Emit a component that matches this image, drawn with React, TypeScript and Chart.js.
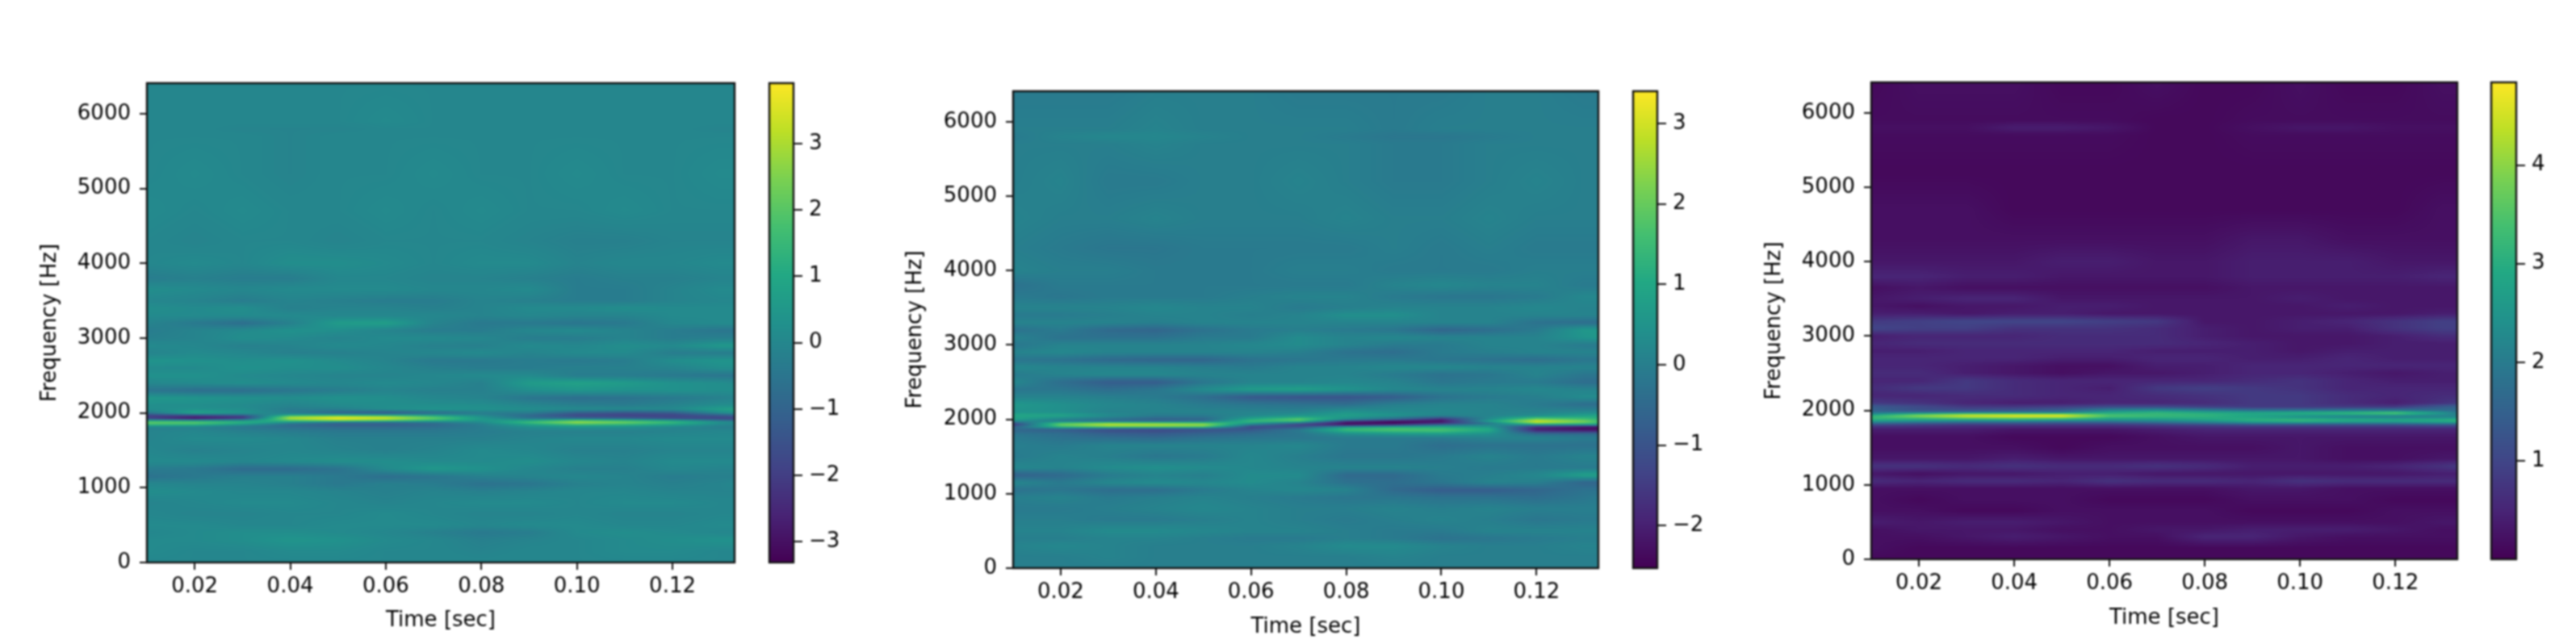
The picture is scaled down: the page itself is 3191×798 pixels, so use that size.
import React, { useEffect, useRef } from "react";
import { Chart, registerables } from "chart.js";

Chart.register(...registerables);

const timeSamples = [0.01, 0.02, 0.03, 0.04, 0.05, 0.06, 0.07, 0.08, 0.09, 0.1, 0.11, 0.12, 0.13, 0.133];
const freqRows = [0, 150, 300, 400, 500, 650, 800, 950, 1050, 1150, 1250, 1350, 1500, 1650, 1750, 1800, 1825, 1850, 1875, 1900, 1925, 1950, 1975, 2000, 2050, 2100, 2200, 2300, 2400, 2500, 2600, 2700, 2800, 2900, 3000, 3100, 3200, 3300, 3400, 3500, 3650, 3800, 4000, 4300, 4700, 5200, 5700, 5800, 5900, 6410];

const timeTicks = [0.02, 0.04, 0.06, 0.08, 0.1, 0.12];
const freqTicks = [0, 1000, 2000, 3000, 4000, 5000, 6000];
const colorTicks1 = [-3, -2, -1, 0, 1, 2, 3];
const colorTicks2 = [-2, -1, 0, 1, 2, 3];
const colorTicks3 = [1, 2, 3, 4];
const colorRange1 = [-3.31, 3.91];
const colorRange2 = [-2.53, 3.4];
const colorRange3 = [0.0, 4.84];
const timeLabel = "Time [sec]";
const freqLabel = "Frequency [Hz]";

const viridisStops = ["#440154", "#482475", "#414487", "#355f8d", "#2a788e", "#21918c", "#22a884", "#44bf70", "#7ad151", "#bddf26", "#fde725"];

const spectrogram1 = [
  [0,0,0,0,0,0,0,0,0,0,0,0,0,0],
  [.1,0,0,.1,.1,0,0,-.1,0,0,.1,.1,0,0],
  [.1,.1,.2,.4,.3,.1,0,-.2,-.1,0,.1,.2,.3,.3],
  [0,.1,.2,.2,.1,0,-.2,-.4,-.3,.1,.2,.1,0,0],
  [.1,.1,0,0,.1,.1,.1,0,.1,.1,0,0,.1,.1],
  [0,-.1,-.1,0,0,.1,0,-.1,-.1,0,-.1,-.1,0,0],
  [-.1,0,.1,.1,0,-.1,0,.1,.1,0,.1,.1,0,0],
  [.2,.1,0,0,-.1,-.2,-.1,-.2,-.1,0,0,-.1,-.1,-.1],
  [0,-.1,-.1,-.2,-.4,-.2,-.3,-.6,-.5,-.2,-.1,-.2,-.1,0],
  [-.6,-.4,-.2,-.2,-.4,-.7,-.5,-.2,-.1,0,-.1,-.3,-.2,-.2],
  [-.3,-.4,-.8,-.8,-.6,.1,.5,.3,0,-.2,-.2,0,-.1,-.1],
  [.1,.1,0,.1,.2,.2,.1,.1,.2,0,-.1,.1,.1,.1],
  [0,-.2,-.1,0,-.1,-.2,-.1,.1,0,-.2,-.2,-.1,-.1,-.1],
  [-.1,.1,.1,0,-.2,-.2,-.2,-.2,-.1,0,0,.1,.1,.1],
  [-.1,0,-.2,-.3,-.4,-.4,-.4,-.3,-.2,-.2,-.2,-.1,0,0],
  [-.2,-.2,-.4,-.6,-.7,-.7,-.6,-.3,.1,.2,.1,-.1,-.2,-.2],
  [.5,.4,-.3,-.8,-1,-1,-.8,-.3,.4,.7,.6,.3,-.2,-.2],
  [1.7,1.6,.7,-.7,-1.2,-1.2,-.9,-.2,1,1.9,1.6,1,.1,0],
  [2.1,2,1.3,.4,-.3,-.5,-.3,.1,1.6,2.8,2.3,1.5,.3,.1],
  [.6,.2,.3,2,2.7,2.2,1.3,.5,.8,1.8,1.3,.6,-.6,-.8],
  [-1.7,-2.7,-1.8,3,3.7,3.3,2.1,.5,-.4,-.6,-.9,-1.5,-1.8,-1.8],
  [-2,-2.6,-2.2,2.6,3.2,2.9,1.7,.3,-.8,-1.5,-1.7,-1.8,-1.6,-1.5],
  [-1.6,-1,-.7,.6,.6,.3,.2,-.1,-.8,-1.7,-1.9,-1.8,-1,-.7],
  [-.5,.9,.4,-.3,-1,-1.3,-.8,-.3,-.3,-1.1,-1.4,-1.2,.1,.3],
  [.2,.3,.2,-.3,-.2,.2,.4,.3,.2,.1,.1,.1,.7,.8],
  [.2,.2,.1,-.1,.1,.2,.2,.2,0,-.2,-.3,-.1,.2,.2],
  [.5,.4,.3,.2,.3,.2,0,-.1,-.5,-.7,-.6,-.4,-.2,-.1],
  [-.5,-.7,-.7,-.5,-.3,-.1,-.2,-.2,.2,.4,.3,.3,.2,.2],
  [0,.1,.2,.1,0,.1,0,-.2,.6,.8,.6,.3,.2,.1],
  [.3,.3,.1,0,-.1,-.1,0,.1,.1,-.3,-.3,-.4,-.5,-.5],
  [.1,.1,.3,.2,.2,0,-.2,-.3,-.3,-.2,-.2,-.1,.2,.2],
  [.4,.3,.2,.3,.1,-.1,-.4,-.4,-.3,-.4,-.3,.2,.4,.4],
  [-.1,.1,0,-.2,-.2,-.1,0,.1,-.1,.1,.1,-.3,-.3,-.3],
  [.1,0,-.2,-.1,.1,0,-.2,-.2,.1,0,.2,.1,.5,.5],
  [-.2,-.1,.2,.1,-.1,.1,.1,0,-.3,-.3,-.1,-.3,-.2,-.2],
  [-.3,-.1,.1,.3,.2,-.1,-.3,-.3,0,.1,-.1,-.3,-.5,-.5],
  [-.1,-.4,-.7,-.2,.6,.7,-.1,-.4,-.4,-.5,-.4,0,.1,.1],
  [.1,.1,.1,.1,0,0,0,-.1,0,-.1,-.1,.1,.1,.1],
  [.2,.1,.2,-.2,-.1,-.1,-.2,-.1,.1,.1,.2,.1,.1,.1],
  [0,-.1,-.3,-.1,-.2,-.3,-.3,-.1,-.2,-.3,-.3,-.1,0,0],
  [.2,.1,0,.1,.1,.1,0,0,.1,-.3,-.3,-.1,.1,.1],
  [-.3,-.2,-.3,-.3,0,0,-.1,-.1,-.2,-.3,-.2,-.2,-.1,-.1],
  [0,.1,0,.2,.2,.1,0,.1,.1,-.1,0,0,.1,.1],
  [0,-.1,0,0,-.1,0,0,0,-.1,-.2,-.2,-.1,-.1,-.1],
  [.1,0,.1,0,0,.1,0,.1,0,0,.1,0,0,0],
  [0,.1,0,-.1,0,0,.1,0,0,.1,0,0,.1,.1],
  [0,0,0,-.1,0,0,0,0,0,0,0,0,0,0],
  [0,0,-.1,-.1,-.1,0,0,0,0,0,0,0,-.1,-.1],
  [0,0,0,0,0,.1,0,0,0,0,0,0,0,0],
  [0,0,0,0,0,0,0,0,0,0,0,0,0,0],
];

const spectrogram2 = [
  [0,0,0,0,0,0,0,0,0,0,0,0,0,0],
  [0,0,.1,0,0,0,0,0,.1,0,0,0,0,0],
  [.1,.2,.1,0,0,0,.1,.3,.3,.1,0,0,.1,.1],
  [0,0,.1,.1,0,-.1,-.1,0,-.1,-.3,-.2,-.1,0,0],
  [.1,.1,.3,.3,.2,.1,.1,0,-.1,-.1,.1,.1,.1,.1],
  [0,0,-.1,-.1,0,.1,0,-.1,0,.1,0,-.2,-.1,-.1],
  [-.1,-.1,0,.1,.2,.1,0,0,.1,0,.1,0,0,0],
  [0,.1,-.1,0,.1,0,-.1,-.2,-.2,-.3,-.3,-.4,-.2,-.1],
  [-.3,-.2,-.4,-.4,-.1,.1,.2,.1,-.5,-.8,-.8,-.6,-.3,-.3],
  [.2,-.1,.2,.3,.2,.3,.1,-.3,-.4,-.2,.1,0,-.6,-.6],
  [-.7,-.5,-.1,.1,0,.3,.3,-.5,-.5,-.1,0,.2,.8,.8],
  [.2,.1,.3,.4,.3,.2,.1,.1,.1,0,-.1,-.1,-.1,-.1],
  [-.1,.1,0,-.2,-.1,.2,0,-.2,-.2,-.1,.1,-.1,.1,.1],
  [0,-.1,.1,.1,.1,.1,.2,-.1,-.1,-.4,-.3,-.3,-.3,-.3],
  [-.1,-.3,-.4,-.5,-.3,-.2,-.2,-.1,-.1,-.1,.1,.1,-.1,-.1],
  [-.2,-.4,-.7,-.8,-.6,-.4,-.2,.3,.5,.6,.4,-.4,-.4,-.4],
  [-.4,-.5,-.9,-1,-.8,-.6,-.2,.8,1.1,1.2,.7,-1.1,-1.2,-1.2],
  [-.5,-.8,-1.1,-1.2,-1,-.8,-.1,1.3,1.6,1.6,1,-1.8,-2,-2],
  [-.5,-.3,-.6,-.8,-.7,-1.1,-.5,1.4,1.7,1.5,1,-2.1,-2.4,-2.4],
  [-.6,1.4,2,2,1.8,-1.2,-1,.3,.8,.9,.5,-1.5,-2,-2.1],
  [-1.5,2,2.8,2.7,2.5,-.2,-1.4,-2,-1.4,-.4,.2,.3,.3,.4],
  [-1,1.6,2.2,2,1.8,.8,-.4,-2.4,-2.5,-1.8,-.2,2.4,1.8,1.4],
  [.3,-.1,-.4,-.5,-.3,1.5,1.6,-1.4,-2.2,-2.3,.8,3,2.2,1.6],
  [.8,.1,-.3,-.7,-.6,1,1.9,.3,-.6,-1.8,.3,2.2,1.6,1.3],
  [1,.9,.3,-.1,-.1,.2,.5,.8,.5,.1,.1,.3,.8,.9],
  [.5,.4,.1,.1,.1,.1,.1,.5,.3,.2,.1,.1,.2,.2],
  [.6,.4,.2,.1,-.1,-.2,-.3,-.4,0,.1,.1,-.1,-.4,-.4],
  [.1,.1,0,-.1,-.4,-.9,-1,-1,-.8,-.3,-.1,0,.3,.3],
  [-.2,-.2,-.4,-.2,.3,.7,.8,.5,.2,.1,.1,.2,.1,.1],
  [.2,-.4,-.8,-.8,-.2,.1,.1,.2,.1,-.2,-.1,-.1,-.4,-.4],
  [-.1,.1,.2,.2,.1,.1,.1,.1,-.1,-.3,-.2,.1,-.2,-.2],
  [.2,.1,.1,.1,0,-.1,.1,.1,.2,.2,.1,.1,.1,.1],
  [-.2,-.3,-.5,-.6,-.6,-.3,-.2,-.1,-.1,-.2,-.3,-.4,-.2,-.2],
  [.1,.2,.1,.1,.1,.1,0,-.3,-.4,-.1,0,.1,.1,.1],
  [-.2,.1,.1,.1,.1,.2,.3,.1,-.1,-.1,.1,.1,-.1,-.1],
  [.1,-.3,-.3,-.3,-.1,-.1,.3,.1,.2,.1,.1,.1,.5,.6],
  [-.3,-.1,-.5,-.6,-.3,-.1,0,-.1,-.2,-.6,-.4,-.1,.6,.6],
  [.1,.1,.1,0,.1,.1,.1,.1,.1,.1,.1,-.3,-.4,-.4],
  [-.1,-.1,0,.1,.1,0,.1,.4,.4,.1,.1,.1,.1,.1],
  [.1,.1,.1,.2,.1,.1,-.1,0,.1,.1,.1,.2,.1,.1],
  [-.1,-.2,-.1,-.1,-.1,0,.1,.1,-.1,-.2,-.2,-.1,.2,.2],
  [-.3,-.1,-.1,-.1,-.1,-.1,-.1,-.1,.1,.2,.1,.1,-.1,-.1],
  [.1,0,0,-.1,-.1,-.1,0,0,-.1,-.1,-.1,0,0,0],
  [0,-.1,-.2,-.2,-.1,-.1,-.1,-.1,0,-.1,0,-.1,-.1,-.1],
  [.1,0,0,.1,0,0,0,.1,0,0,.1,0,0,0],
  [0,.1,-.1,-.1,0,0,.1,0,-.1,-.1,0,.1,0,0],
  [0,0,0,.1,0,0,0,0,-.1,-.1,0,0,0,0],
  [-.1,.1,.2,.2,.1,0,0,-.1,-.2,-.2,-.1,0,0,0],
  [0,0,0,.1,0,0,0,0,-.1,0,0,0,0,0],
  [-.1,-.1,-.1,0,0,0,-.1,-.1,-.1,-.1,0,0,-.1,-.1],
];

const spectrogram3 = [
  [.1,.1,.1,.1,.1,.1,.1,.1,.1,.1,.1,.1,.1,.1],
  [.2,.1,.1,.1,.1,.1,.1,.1,.1,.1,.1,.1,.1,.1],
  [.2,.2,.3,.4,.3,.2,.2,.5,.5,.3,.2,.2,.2,.2],
  [.2,.3,.3,.3,.2,.2,.3,.3,.4,.4,.4,.3,.2,.2],
  [.4,.3,.4,.4,.3,.2,.2,.2,.2,.2,.2,.2,.3,.3],
  [.2,.2,.1,.1,.2,.2,.2,.2,.1,.1,.1,.2,.2,.2],
  [.2,.1,.2,.2,.2,.1,.1,.1,.2,.2,.2,.1,.1,.1],
  [.2,.2,.2,.2,.2,.2,.2,.2,.3,.3,.2,.2,.2,.2],
  [.6,.5,.6,.6,.5,.7,.6,.6,.5,.7,.6,.6,.6,.6],
  [.3,.2,.3,.3,.4,.4,.3,.3,.3,.3,.3,.3,.4,.4],
  [.7,.7,.6,.7,.6,.6,.7,.6,.4,.4,.4,.5,.7,.8],
  [.3,.3,.3,.4,.3,.3,.3,.3,.3,.3,.2,.2,.3,.3],
  [.2,.2,.2,.2,.1,.2,.2,.2,.2,.3,.2,.2,.2,.2],
  [.2,.2,.2,.1,.1,.1,.2,.3,.3,.3,.3,.3,.3,.3],
  [.4,.4,.4,.3,.3,.3,.4,.5,.5,.5,.5,.5,.5,.5],
  [.9,.8,.7,.7,.7,.7,.8,.9,1,1,1,1,1.1,1.1],
  [1.6,1.3,1.2,1.2,1.1,1.1,1.3,1.6,1.9,1.9,1.8,1.8,2,2],
  [2.4,2.2,2,2,1.8,1.8,2,2.3,2.8,3,2.8,2.7,2.9,3],
  [3,2.8,2.8,2.9,2.8,2.5,2.5,2.8,3.1,3.2,3,2.9,3,3.1],
  [3.2,3.4,3.8,3.9,3.8,3,3,3,2.9,2.6,2.4,2.3,2.4,2.5],
  [3.1,4,4.5,4.7,4.7,3.5,3.2,3.1,2.8,2.5,2.2,2.1,2.1,2.1],
  [2.4,3.3,3.9,4,4,3.2,3.2,3.1,2.9,2.9,3,3.2,2.4,2.1],
  [1.8,1.8,1.9,1.9,1.9,2.8,3.1,2.8,2.7,2.9,3.1,3.4,2.4,1.9],
  [1.5,1.2,1.2,1.3,1.5,2.2,2.4,2.1,1.8,1.8,1.9,1.9,1.7,1.7],
  [1.4,1.1,.8,.8,.9,1.1,1.1,.9,.8,.8,.8,.8,1.4,1.5],
  [.8,.7,.5,.4,.4,.5,.5,.6,.8,.8,.6,.4,.7,.8],
  [.5,.5,.6,.6,.5,.5,.6,.7,.8,.8,.6,.5,.6,.6],
  [.6,.8,.8,.6,.5,.4,.8,.9,.8,.7,.5,.5,.5,.5],
  [.5,.5,.8,.6,.5,.5,.5,.5,.6,.7,.5,.4,.4,.4],
  [.6,.6,.4,.3,.2,.3,.3,.4,.5,.5,.4,.3,.4,.4],
  [.5,.5,.4,.3,.2,.2,.4,.4,.5,.5,.5,.5,.5,.5],
  [.5,.5,.5,.5,.4,.4,.5,.5,.4,.4,.5,.4,.4,.4],
  [.4,.4,.5,.5,.5,.5,.4,.4,.4,.3,.4,.4,.4,.4],
  [.5,.6,.6,.6,.6,.6,.6,.5,.4,.3,.3,.4,.4,.4],
  [.4,.5,.5,.5,.6,.6,.6,.4,.3,.3,.3,.4,.6,.6],
  [1,.9,.9,.7,.7,.7,.6,.4,.3,.4,.4,.7,.9,.9],
  [.8,.9,1,1,1,.9,.8,.3,.3,.4,.5,.7,.9,.9],
  [.4,.4,.3,.4,.4,.3,.3,.3,.3,.3,.3,.3,.4,.4],
  [.3,.2,.3,.3,.4,.4,.3,.3,.3,.3,.4,.3,.3,.3],
  [.3,.4,.5,.5,.3,.3,.3,.3,.3,.4,.3,.3,.3,.3],
  [.2,.3,.2,.2,.2,.2,.2,.2,.3,.3,.3,.3,.3,.3],
  [.5,.5,.4,.4,.3,.3,.3,.3,.4,.4,.4,.4,.5,.5],
  [.3,.3,.3,.3,.4,.4,.3,.3,.4,.4,.4,.3,.3,.3],
  [.2,.2,.2,.2,.2,.2,.2,.2,.3,.3,.2,.2,.2,.2],
  [.2,.2,.2,.1,.1,.1,.1,.1,.1,.1,.1,.1,.2,.2],
  [.1,.1,.1,.1,.1,.1,.1,.1,.1,.1,.1,.1,.1,.1],
  [.15,.15,.15,.15,.15,.15,.1,.1,.15,.15,.15,.15,.15,.15],
  [.2,.2,.2,.4,.4,.3,.1,.1,.2,.3,.3,.2,.2,.2],
  [.15,.15,.15,.15,.15,.15,.1,.1,.15,.15,.15,.15,.15,.15],
  [.1,.2,.2,.2,.1,.1,.2,.1,.1,.2,.1,.1,.2,.2],
];

const FONT = "'DejaVu Sans'";
const FONT_SIZE = 26;
const TEXT = "#000";

function hexRgb(h: string) {
  return [parseInt(h.slice(1, 3), 16), parseInt(h.slice(3, 5), 16), parseInt(h.slice(5, 7), 16)];
}
function colormapAt(t: number) {
  const p = Math.min(Math.max(t, 0), 1) * (viridisStops.length - 1);
  const i = Math.min(Math.floor(p), viridisStops.length - 2);
  const a = hexRgb(viridisStops[i]);
  const b = hexRgb(viridisStops[i + 1]);
  const f = p - i;
  return [a[0] + (b[0] - a[0]) * f, a[1] + (b[1] - a[1]) * f, a[2] + (b[2] - a[2]) * f];
}

function segments(positions: number[], from: number, to: number) {
  const out: [number, number][] = [];
  const asc = positions[positions.length - 1] > positions[0];
  for (let p = from; p < to; p++) {
    const c = p + 0.5;
    let i = 0;
    while (
      i < positions.length - 2 &&
      (asc ? positions[i + 1] < c : positions[i + 1] > c)
    ) i++;
    const f = (c - positions[i]) / (positions[i + 1] - positions[i]);
    out.push([i, Math.min(Math.max(f, 0), 1)]);
  }
  return out;
}

const heatmapPlugin = {
  id: "heatmap",
  beforeDatasetsDraw(chart: any) {
    const opts = chart.options.plugins.heatmap;
    if (!opts || !opts.matrix) return;
    const meta = chart.getDatasetMeta(0);
    const nc = timeSamples.length;
    const nr = freqRows.length;
    const xs: number[] = [];
    const ys: number[] = [];
    for (let c = 0; c < nc; c++) xs.push(meta.data[c].x);
    for (let r = 0; r < nr; r++) ys.push(meta.data[r * nc].y);
    const area = chart.chartArea;
    const L = Math.round(area.left), R = Math.round(area.right), T = Math.round(area.top), B = Math.round(area.bottom);
    const w = R - L, h = B - T;
    const off = document.createElement("canvas");
    off.width = w;
    off.height = h;
    const octx = off.getContext("2d")!;
    const img = octx.createImageData(w, h);
    const sx = segments(xs, L, R);
    const sy = segments(ys, T, B);
    const [vmin, vmax] = opts.range;
    const lut: number[][] = [];
    for (let i = 0; i < 512; i++) lut.push(colormapAt(i / 511));
    const m = opts.matrix as number[][];
    let k = 0;
    for (let y = 0; y < h; y++) {
      const [ri, rf] = sy[y];
      const r0 = m[ri], r1 = m[ri + 1];
      for (let x = 0; x < w; x++) {
        const [ci, cf] = sx[x];
        const top = r0[ci] + (r0[ci + 1] - r0[ci]) * cf;
        const bot = r1[ci] + (r1[ci + 1] - r1[ci]) * cf;
        const v = top + (bot - top) * rf;
        const col = lut[Math.round(Math.min(Math.max((v - vmin) / (vmax - vmin), 0), 1) * 511)];
        img.data[k++] = col[0];
        img.data[k++] = col[1];
        img.data[k++] = col[2];
        img.data[k++] = 255;
      }
    }
    octx.putImageData(img, 0, 0);
    chart.ctx.drawImage(off, L, T);
  },
};

const framePlugin = {
  id: "frame",
  afterDatasetsDraw(chart: any) {
    const a = chart.chartArea;
    const c = chart.ctx;
    c.save();
    c.strokeStyle = "#111";
    c.lineWidth = 2.4;
    c.strokeRect(a.left, a.top, a.right - a.left, a.bottom - a.top);
    c.restore();
  },
};

type Layout = {
  left: number; right: number; top: number; bottom: number;
  cbLeft: number; cbRight: number; yTitleX: number; xTitleY: number;
};

const panels: { matrix: number[][]; range: number[]; cticks: number[]; layout: Layout }[] = [
  { matrix: spectrogram1, range: colorRange1, cticks: colorTicks1,
    layout: { left: 182, right: 910, top: 103, bottom: 697, cbLeft: 953, cbRight: 983, yTitleX: 63, xTitleY: 769 } },
  { matrix: spectrogram2, range: colorRange2, cticks: colorTicks2,
    layout: { left: 1255, right: 1980, top: 113, bottom: 704, cbLeft: 2023, cbRight: 2053, yTitleX: 1135, xTitleY: 777 } },
  { matrix: spectrogram3, range: colorRange3, cticks: colorTicks3,
    layout: { left: 2318, right: 3044, top: 102, bottom: 693, cbLeft: 3086, cbRight: 3117, yTitleX: 2199, xTitleY: 766 } },
];

const PAD = 3;
const LINE_H = FONT_SIZE * 1.2;

function fixedAxis(size: number, horizontal: boolean) {
  return (s: any) => {
    if (horizontal) s.height = size;
    else s.width = size;
    s.paddingTop = 0;
    s.paddingBottom = 0;
    s.paddingLeft = 0;
    s.paddingRight = 0;
  };
}

function HeatPanel({ p }: { p: (typeof panels)[number] }) {
  const heatRef = useRef<HTMLCanvasElement>(null);
  const barRef = useRef<HTMLCanvasElement>(null);
  const l = p.layout;
  const yW = Math.round(l.left - (l.yTitleX - LINE_H / 2));
  const xH = Math.round(l.xTitleY + LINE_H / 2 - l.bottom);
  const heatLeft = l.left - yW;
  const heatW = l.right - heatLeft + PAD;
  const heatTop = l.top - PAD;
  const heatH = l.bottom + xH - heatTop;
  const barW = 72 + (l.cbRight - l.cbLeft);
  const barLeft = l.cbLeft - PAD;
  const barH = l.bottom - l.top + 2 * PAD;

  useEffect(() => {
    const cells: { x: number; y: number }[] = [];
    freqRows.forEach((f) => timeSamples.forEach((t) => cells.push({ x: t, y: f })));
    const tickFont = { family: FONT, size: FONT_SIZE };
    const heat = new Chart(heatRef.current!, {
      type: "scatter",
      data: { datasets: [{ data: cells, pointRadius: 0, pointHoverRadius: 0, showLine: false }] },
      options: {
        animation: false, responsive: false, devicePixelRatio: 1,
        events: [],
        layout: { padding: { top: PAD, right: PAD, left: 0, bottom: 0 } },
        plugins: {
          legend: { display: false }, tooltip: { enabled: false },
          heatmap: { matrix: p.matrix, range: p.range },
        } as any,
        scales: {
          x: {
            type: "linear", min: 0.01, max: 0.133,
            afterBuildTicks: (s: any) => { s.ticks = timeTicks.map((value) => ({ value })); },
            afterFit: fixedAxis(xH, true),
            grid: { drawOnChartArea: false, drawTicks: true, tickLength: 9, color: "#111", lineWidth: 2 },
            border: { display: false },
            ticks: { font: tickFont, color: TEXT, maxRotation: 0, autoSkip: false, padding: 6, callback: (v: any) => Number(v).toFixed(2) },
            title: { display: true, text: timeLabel, font: tickFont, color: TEXT, padding: 0 },
          },
          y: {
            type: "linear", min: 0, max: 6410,
            afterBuildTicks: (s: any) => { s.ticks = freqTicks.map((value) => ({ value })); },
            afterFit: fixedAxis(yW, false),
            grid: { drawOnChartArea: false, drawTicks: true, tickLength: 9, color: "#111", lineWidth: 2 },
            border: { display: false },
            ticks: { font: tickFont, color: TEXT, autoSkip: false, padding: 11, callback: (v: any) => String(v) },
            title: { display: true, text: freqLabel, font: tickFont, color: TEXT, padding: 0 },
          },
        },
      } as any,
      plugins: [heatmapPlugin, framePlugin],
    });
    const bar = new Chart(barRef.current!, {
      type: "bar",
      data: {
        labels: ["colorbar"],
        datasets: [{
          data: [p.range as any],
          barPercentage: 1, categoryPercentage: 1, borderWidth: 0,
          backgroundColor: (ctx: any) => {
            const a = ctx.chart.chartArea;
            if (!a) return viridisStops[5];
            const g = ctx.chart.ctx.createLinearGradient(0, a.bottom, 0, a.top);
            viridisStops.forEach((c, i) => g.addColorStop(i / (viridisStops.length - 1), c));
            return g;
          },
        }],
      },
      options: {
        animation: false, responsive: false, devicePixelRatio: 1,
        events: [],
        layout: { padding: { top: PAD, bottom: PAD, left: PAD, right: 0 } },
        plugins: { legend: { display: false }, tooltip: { enabled: false } },
        scales: {
          x: { display: false, grid: { display: false } },
          y: {
            position: "right", min: p.range[0], max: p.range[1],
            afterBuildTicks: (s: any) => { s.ticks = p.cticks.map((value) => ({ value })); },
            afterFit: fixedAxis(barW - PAD - (l.cbRight - l.cbLeft), false),
            grid: { drawOnChartArea: false, drawTicks: true, tickLength: 11, color: "#111", lineWidth: 2 },
            border: { display: false },
            ticks: { font: tickFont, color: TEXT, autoSkip: false, padding: 8, callback: (v: any) => (v < 0 ? "\u2212" + Math.abs(v) : String(v)) },
          },
        },
      } as any,
      plugins: [framePlugin],
    });
    return () => { heat.destroy(); bar.destroy(); };
  }, []);

  return (
    <>
      <canvas ref={heatRef} width={heatW} height={heatH} style={{ position: "absolute", left: heatLeft, top: heatTop, width: heatW, height: heatH }} />
      <canvas ref={barRef} width={barW} height={barH} style={{ position: "absolute", left: barLeft, top: l.top - PAD, width: barW, height: barH }} />
    </>
  );
}

export default function App() {
  return (
    <div style={{ position: "absolute", left: 0, top: 0, width: 3191, height: 798, overflow: "hidden", background: "#fff", filter: "blur(1.2px)" }}>
      {panels.map((p, i) => <HeatPanel key={i} p={p} />)}
    </div>
  );
}
